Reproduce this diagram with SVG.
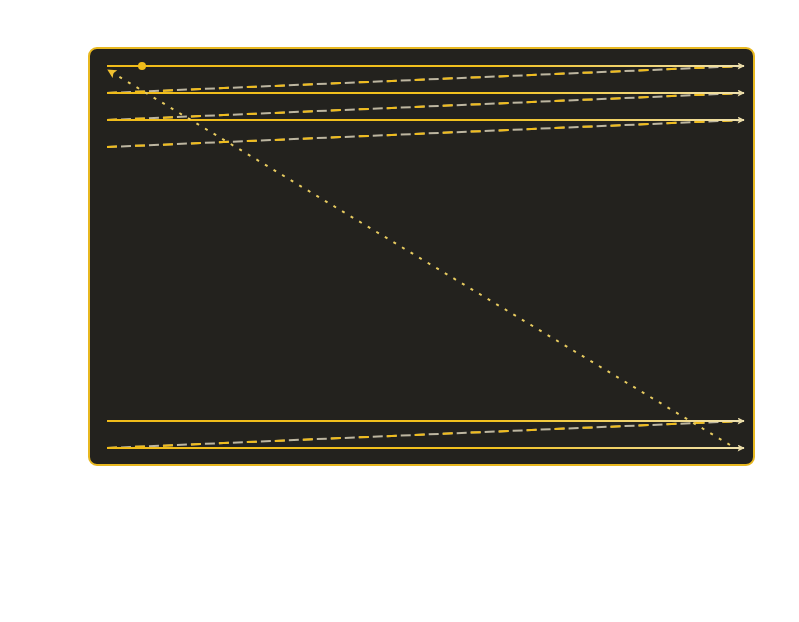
<svg xmlns="http://www.w3.org/2000/svg" width="799" height="622" viewBox="0 0 799 622">
<defs>
<linearGradient id="g" gradientUnits="userSpaceOnUse" x1="107" x2="744" y1="0" y2="0"><stop offset="0" stop-color="#f0bc1a"/><stop offset="0.6" stop-color="#f2c21e"/><stop offset="1" stop-color="#efe2b0"/></linearGradient>
<marker id="a" viewBox="0 0 10 10" refX="9" refY="5" markerWidth="10" markerHeight="7" markerUnits="userSpaceOnUse" orient="auto"><path d="M0,0L10,5L0,10L2,5Z" fill="#eadca8"/></marker>
<marker id="b" viewBox="0 0 10 10" refX="9" refY="5" markerWidth="12" markerHeight="9" markerUnits="userSpaceOnUse" orient="auto"><path d="M0,0L10,5L0,10L2,5Z" fill="#f0c030"/></marker>
</defs>
<style>
.s{stroke:url(#g);stroke-width:2.2;fill:none}
.d1{stroke:#bdb6a0;stroke-width:2;stroke-dasharray:10 4;fill:none}
.d2{stroke:#f0bc1a;stroke-width:2;stroke-dasharray:10 18;fill:none}
.dt{stroke:#e8cc60;stroke-width:2;stroke-dasharray:3 7;fill:none}
</style>
<rect x="0" y="0" width="799" height="622" fill="#fff"/>
<g id="frame"><rect x="89" y="48" width="665" height="417" rx="8" fill="#23221e" stroke="#e8b820" stroke-width="2"/></g>
<g id="connectors">
<path class="d1" d="M107,93L744,66"/><path class="d2" d="M107,93L744,66"/>
<path class="d1" d="M107,120L744,93"/><path class="d2" d="M107,120L744,93"/>
<path class="d1" d="M107,147L744,120"/><path class="d2" d="M107,147L744,120"/>
<path class="d1" d="M107,448L744,421"/><path class="d2" d="M107,448L744,421"/>
<path class="s" d="M107,66H744" marker-end="url(#a)"/>
<path class="s" d="M107,93H744" marker-end="url(#a)"/>
<path class="s" d="M107,120H744" marker-end="url(#a)"/>
<path class="s" d="M107,421H744" marker-end="url(#a)"/>
<path class="s" d="M107,448H744" marker-end="url(#a)"/>
<path class="dt" d="M730,445L108,70" marker-end="url(#b)"/>
</g>
<g id="dot"><circle cx="142" cy="66" r="4" fill="#f0bc1a"/></g>
</svg>
